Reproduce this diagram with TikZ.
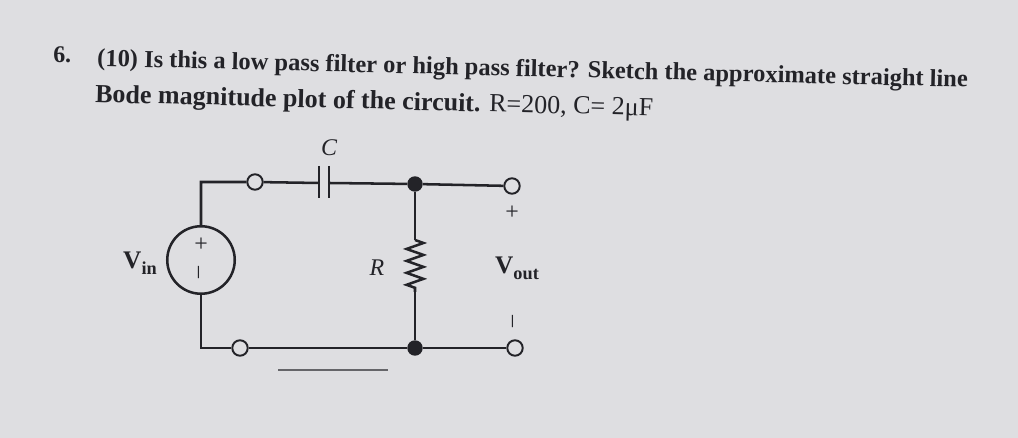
\documentclass[tikz,border=0pt]{standalone}
\usepackage{fontspec}
\setmainfont{Liberation Serif}
\usetikzlibrary{decorations.pathmorphing}
\definecolor{paper}{RGB}{222,222,225}
\definecolor{ink}{RGB}{35,35,40}
\tikzset{
  wire/.style={ink, line width=1.8pt},
  term/.style={circle, draw=ink, line width=1.4pt, fill=paper, inner sep=0pt, minimum size=11pt},
  junc/.style={circle, fill=ink, inner sep=0pt, minimum size=11pt},
  lbl/.style={text=ink, inner sep=0pt}
}
\begin{document}
\begin{tikzpicture}[x=0.025cm,y=-0.025cm]
\fill[paper] (0,0) rectangle (1018,438);
\useasboundingbox (0,0) rectangle (1018,438);
% question text
\node[lbl, anchor=west, font=\bfseries\fontsize{17}{18}\selectfont] (num) at (53,55) {6.};
\node[lbl, anchor=west, font=\bfseries\fontsize{17.4}{18}\selectfont, rotate=-1.4] (q1) at (97,60) {(10) Is this a low pass filter or high pass filter? Sketch the approximate straight line};
\node[lbl, anchor=west, font=\fontsize{18.5}{19}\selectfont, rotate=-1.4] (q2) at (95,96) {\textbf{Bode magnitude plot of the circuit.} R=200, C= 2μF};
% nodes
\coordinate (tl) at (201,182);
\coordinate (bl) at (201,348);
\node[term] (t1) at (255,182) {};
\node[term] (t2) at (240,348) {};
\node[junc] (jt) at (415,184) {};
\node[junc] (jb) at (415,348) {};
\node[term] (o1) at (512,186) {};
\node[term] (o2) at (515,348) {};
\node[circle, draw=ink, line width=1.8pt, minimum size=48pt, inner sep=0pt] (src) at (201,260) {};
\coordinate (c1) at (319,183);
\coordinate (c2) at (329,183);
\coordinate (r1) at (415,240);
\coordinate (r2) at (415,292);
% wires
\draw[wire] (src.north) -- (tl) -- (t1) -- (c1);
\draw[wire] (c1 |- 0,166) -- (c1 |- 0,198);
\draw[wire] (c2 |- 0,166) -- (c2 |- 0,198);
\draw[wire] (c2) -- (jt) -- (o1);
\draw[wire] (src.south) -- (bl) -- (t2) -- (jb) -- (o2);
\draw[wire] (jt) -- (r1);
\draw[wire, decorate, decoration={zigzag, segment length=8.5pt, amplitude=6pt}] (r1) -- (r2);
\draw[wire] (r2) -- (jb);
\draw[ink!70, line width=1pt] (278,370) -- (388,370);
% labels
\node[lbl, font=\itshape\fontsize{17}{18}\selectfont] (lc) at (329,148) {C};
\node[lbl, font=\itshape\fontsize{17}{18}\selectfont] (lr) at (377,268) {R};
\node[lbl, font=\bfseries\fontsize{18}{18}\selectfont] (vin) at (140,263) {V\raisebox{-0.5ex}{\fontsize{13}{13}\selectfont in}};
\node[lbl, font=\bfseries\fontsize{18}{18}\selectfont] (vout) at (517,268) {V\raisebox{-0.5ex}{\fontsize{13}{13}\selectfont out}};
\node[lbl, font=\fontsize{17}{17}\selectfont] (sp) at (201,245) {+};
\node[lbl, font=\fontsize{17}{17}\selectfont, rotate=90] (sm) at (201,273) {–};
\node[lbl, font=\fontsize{17}{17}\selectfont] (op) at (512,213) {+};
\node[lbl, font=\fontsize{17}{17}\selectfont, rotate=90] (om) at (515,322) {–};
\end{tikzpicture}
\end{document}
